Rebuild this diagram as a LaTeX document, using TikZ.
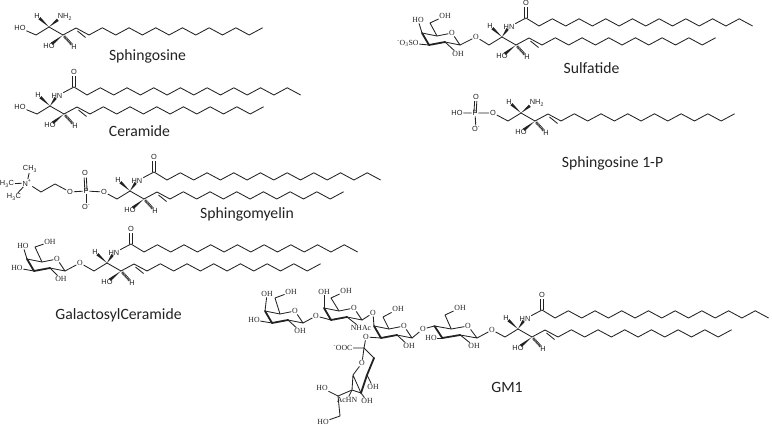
\documentclass[tikz,border=0pt]{standalone}
\usepackage{fontspec}
\setmainfont{Carlito}
\newfontfamily\atomsans{Liberation Sans}
\newfontfamily\atomserif{Liberation Serif}
\usetikzlibrary{calc, positioning}
\definecolor{inkcol}{HTML}{222222}
\tikzset{>=stealth,
    bond/.style={line width=.85pt, draw=inkcol, line join=round},
    frontbond/.style={line width=1.8pt, draw=inkcol, line join=round, line cap=round},
    hashbond/.style={line width=2.6pt, draw=inkcol, dash pattern=on .7pt off .6pt},
    atom/.style={font=\atomsans\fontsize{7.4}{7.4}\selectfont, inner sep=.7pt, text=inkcol},
    sugar/.style={font=\atomserif\fontsize{7.8}{7.8}\selectfont, inner sep=.6pt, text=inkcol},
    caption/.style={font=\fontsize{15.7}{15.7}\selectfont, inner sep=0pt, text=inkcol}
}
% wedge, thin at #1
\newcommand{\wedgeb}[2]{\fill[inkcol] (#1) -- ($(#1)!.8!(#2)!1.5pt!90:(#1)$) -- ($(#1)!.8!(#2)!1.5pt!-90:(#1)$) -- cycle;}
\newcommand{\hashb}[2]{\draw[hashbond] ($(#1)!.1!(#2)$) -- ($(#1)!.8!(#2)$);}
% two parallel lines, stop short of the atom at #2
\newcommand{\dblb}[2]{%
    \draw[bond] ($(#1)!1.1pt!90:(#2)$) -- ($($(#1)!.74!(#2)$)!1.1pt!-90:(#1)$);
    \draw[bond] ($(#1)!1.1pt!-90:(#2)$) -- ($($(#1)!.74!(#2)$)!1.1pt!90:(#1)$);
}
\newcommand{\tailchain}[2]{\draw[bond] (#1) foreach \i in {1,...,#2} { -- ++(13.35,{mod(\i,2)==1 ? -7.2 : 7.2}) };}
% common long chain base: prefix, x, y of C2, tail bonds
\newcommand{\sphbase}[4]{%
    \coordinate (#1c2) at (#2,#3);
    \coordinate (#1c1) at (#2-13,#3+8);
    \coordinate (#1c3) at (#2+14,#3+8);
    \coordinate (#1c4) at (#2+27,#3+1);
    \coordinate (#1c5) at (#2+40,#3+8);
    \node[atom] (#1oh) at (#2+0,#3+19) {HO};
    \node[atom] (#1ht) at (#2+25,#3+20) {H};
    \node[atom] (#1hc) at (#2-12,#3-11) {H};
    \draw[bond] (#1c1) -- (#1c2) -- (#1c3) -- (#1c4) -- (#1c5);
    \draw[bond] ($(#1c4)+(1.5,3)$) -- ($(#1c5)+(-3.5,2.5)$);
    \wedgeb{#1c3}{#1oh}
    \hashb{#1c3}{#1ht}
    \wedgeb{#1c2}{#1hc}
    \tailchain{#1c5}{#4}
}
% amide part with acyl chain
\newcommand{\amidepart}[3]{%
    \node[atom] (#1hn) at (#2+7,#3-10) {HN};
    \coordinate (#1co) at (#2+24,#3-19);
    \coordinate (#1ac) at (#2+37,#3-11);
    \node[atom] (#1ox) at (#2+24,#3-34) {O};
    \wedgeb{#1c2}{#1hn}
    \draw[bond] (#1hn) -- (#1co) -- (#1ac);
    \dblb{#1co}{#1ox}
    \tailchain{#1ac}{16}
}
% chair: prefix, x, y of anomeric carbon, x stretch
\newcommand{\sugarring}[4]{%
    \begin{scope}[shift={(#2,#3)}, xscale=#4]
        \coordinate (#1d) at (0,0);
        \coordinate (#1a) at (-38,-12);
        \coordinate (#1b) at (-31,0);
        \coordinate (#1c) at (-15,-3);
        \coordinate (#1f) at (-23,-9);
        \node[sugar] (#1o) at (-8,-12) {O};
    \end{scope}
    \draw[bond] (#1c) -- (#1d) -- (#1o) -- (#1f) -- (#1a);
    \draw[frontbond] (#1a) -- (#1b) -- (#1c);
}
\begin{document}
\begin{tikzpicture}[x=1pt,y=-1pt]
    \useasboundingbox (0,0) rectangle (772,425);
    % sphingosine
    \sphbase{sa}{49}{27}{13}
    \node[atom] (sahoa) at (20,28) {HO};
    \node[atom,anchor=west] (sanh) at (57,17) {NH\textsubscript{2}};
    \coordinate (sawn) at (60,18);
    \draw[bond] (sahoa) -- (sac1);
    \wedgeb{sac2}{sawn}
    \node[caption] (sacap) at (147.5,56) {Sphingosine};
    % ceramide
    \sphbase{ce}{50}{106}{13}
    \amidepart{ce}{50}{106}
    \node[atom] (cehoa) at (20,107) {HO};
    \draw[bond] (cehoa) -- (cec1);
    \node[caption] (cecap) at (139.5,131) {Ceramide};
    % sphingomyelin
    \sphbase{sm}{130}{191}{13}
    \amidepart{sm}{130}{191}
    \node[atom] (smoa) at (104,192) {O};
    \node[atom] (smp) at (86,191) {P};
    \node[atom] (smob) at (85,173) {O};
    \node[atom] (smoc) at (86,207) {O\textsuperscript{-}};
    \node[atom] (smod) at (70,192) {O};
    \node[atom] (smn) at (27,183) {N\textsuperscript{+}};
    \node[atom] (smme) at (30,169) {CH\textsubscript{3}};
    \node[atom] (smmf) at (7,184) {H\textsubscript{3}C};
    \node[atom] (smmg) at (14,197) {H\textsubscript{3}C};
    \coordinate (smca) at (41,192);
    \coordinate (smcb) at (55,184);
    \draw[bond] (smc1) -- (smoa) -- (smp) -- (smod) -- (smcb) -- (smca) -- (smn);
    \draw[bond] (smp) -- (smoc);
    \dblb{smp}{smob}
    \draw[bond] (smn) -- (smme);
    \draw[bond] (smn) -- (smmf);
    \draw[bond] (smn) -- (smmg);
    \node[caption] (smcap) at (247,214) {Sphingomyelin};
    % galactosylceramide
    \sphbase{gc}{107}{263}{13}
    \amidepart{gc}{107}{263}
    \sugarring{gr}{65}{271}{1}
    \node[sugar] (gro) at (80,263) {O};
    \node[sugar] (grha) at (23,246) {HO};
    \node[sugar] (grhb) at (50,242) {OH};
    \node[sugar] (grhc) at (17,268) {HO};
    \node[sugar] (grhd) at (61,279) {OH};
    \coordinate (grch) at (35,247);
    \draw[bond] (grd) -- (gro) -- (gcc1);
    \draw[bond] (gra) -- (grha);
    \draw[bond] (grf) -- (grch) -- (grhb);
    \draw[bond] (grb) -- (grhc);
    \draw[bond] (grc) -- (grhd);
    \node[caption] (gccap) at (118.5,315) {GalactosylCeramide};
    % sulfatide
    \sphbase{su}{502}{37}{13}
    \amidepart{su}{502}{37}
    \sugarring{sr}{460}{45}{1}
    \node[sugar] (sro) at (476,37) {O};
    \node[sugar] (srha) at (418,20) {HO};
    \node[sugar] (srhb) at (445,16) {OH};
    \node[sugar] (srhc) at (408,43) {\textsuperscript{-}O\textsubscript{3}SO};
    \node[sugar] (srhd) at (458,54) {OH};
    \coordinate (srch) at (430,23);
    \draw[bond] (srd) -- (sro) -- (suc1);
    \draw[bond] (sra) -- (srha);
    \draw[bond] (srf) -- (srch) -- (srhb);
    \draw[bond] (srb) -- (srhc);
    \draw[bond] (src) -- (srhd);
    \node[caption] (sucap) at (591.5,68) {Sulfatide};
    % sphingosine 1-P
    \sphbase{sp}{521}{113}{13}
    \node[atom] (spoa) at (493,113) {O};
    \node[atom] (spp) at (475,113) {P};
    \node[atom] (spob) at (476,97) {O};
    \node[atom] (spoc) at (476,129) {O\textsuperscript{-}};
    \node[atom] (spod) at (457,113) {HO};
    \node[atom,anchor=west] (spnh) at (529,103) {NH\textsubscript{2}};
    \coordinate (spwn) at (532,104);
    \draw[bond] (spc1) -- (spoa) -- (spp) -- (spod);
    \draw[bond] (spp) -- (spoc);
    \dblb{spp}{spob}
    \wedgeb{spc2}{spwn}
    \node[caption] (spcap) at (612.5,163) {Sphingosine 1-P};
    % GM1 lipid part
    \sphbase{gm}{518}{329}{13}
    \amidepart{gm}{518}{329}
    % GM1 sugars
    \sugarring{ra}{303}{323}{1}
    \sugarring{rb}{362}{320}{1}
    \sugarring{rc}{412}{338}{1}
    \sugarring{rd}{477}{338}{1.12}
    \node[sugar] (rao) at (316,316) {O};
    \node[sugar] (raha) at (267,294) {OH};
    \node[sugar] (rahb) at (291,292) {OH};
    \node[sugar] (rahc) at (254,320) {HO};
    \node[sugar] (rahd) at (300,331) {OH};
    \coordinate (rach) at (275,298);
    \draw[bond] (rad) -- (rao) -- (rbb);
    \draw[bond] (raa) -- (raha);
    \draw[bond] (raf) -- (rach) -- (rahb);
    \draw[bond] (rab) -- (rahc);
    \draw[bond] (rac) -- (rahd);
    \node[sugar] (rbo) at (373,313) {O};
    \node[sugar] (rbha) at (324,292) {OH};
    \node[sugar] (rbhb) at (346,291) {OH};
    \node[sugar] (rbac) at (361,328) {NHAc};
    \coordinate (rbch) at (331,298);
    \draw[bond] (rbd) -- (rbo) -- (rca);
    \draw[bond] (rba) -- (rbha);
    \draw[bond] (rbf) -- (rbch) -- (rbhb);
    \draw[bond] (rbc) -- (rbac);
    \node[sugar] (rco) at (423,329) {O};
    \node[sugar] (rcha) at (398,309) {OH};
    \node[sugar] (rchb) at (409,346) {OH};
    \node[sugar] (rcoa) at (366,337) {O};
    \coordinate (rcch) at (383,317);
    \draw[bond] (rcd) -- (rco) -- (rda);
    \draw[bond] (rcf) -- (rcch) -- (rcha);
    \draw[bond] (rcc) -- (rchb);
    \draw[bond] (rcb) -- (rcoa);
    \node[sugar] (rdo) at (492,330) {O};
    \node[sugar] (rdha) at (431,338) {HO};
    \node[sugar] (rdhb) at (460,308) {OH};
    \node[sugar] (rdhc) at (474,346) {OH};
    \coordinate (rdch) at (445,315);
    \draw[bond] (rdd) -- (rdo) -- (gmc1);
    \draw[bond] (rdb) -- (rdha);
    \draw[bond] (rdf) -- (rdch) -- (rdhb);
    \draw[bond] (rdc) -- (rdhc);
    % sialic acid
    \node[sugar] (sio) at (362,363) {O};
    \node[sugar] (sicoo) at (343,348) {\textsuperscript{-}OOC};
    \node[sugar] (siha) at (373,387) {OH};
    \node[sugar] (sihb) at (367,401) {OH};
    \node[sugar] (siac) at (347,400) {AcHN};
    \node[sugar] (sihc) at (322,388) {HO};
    \node[sugar] (sihd) at (323,422) {HO};
    \coordinate (sia) at (364,348);
    \coordinate (sib) at (374,358);
    \coordinate (sic) at (367,375);
    \coordinate (sid) at (361,393);
    \coordinate (sie) at (352,390);
    \coordinate (sif) at (353,375);
    \coordinate (sig) at (338,396);
    \coordinate (sih) at (340,416);
    \draw[bond] (rcoa) -- (sia) -- (sicoo);
    \draw[bond] (sia) -- (sio) -- (sif) -- (sie) -- (sid) -- (sif);
    \draw[bond] (sia) -- (sib);
    \draw[frontbond] (sib) -- (sic) -- (sid);
    \draw[bond] (sic) -- (siha);
    \draw[bond] (sid) -- (sihb);
    \draw[bond] (sie) -- (siac);
    \draw[bond] (sie) -- (sig) -- (sih) -- (sihd);
    \draw[bond] (sig) -- (sihc);
    \node[caption] (gmcap) at (507,387) {GM1};
\end{tikzpicture}
\end{document}
